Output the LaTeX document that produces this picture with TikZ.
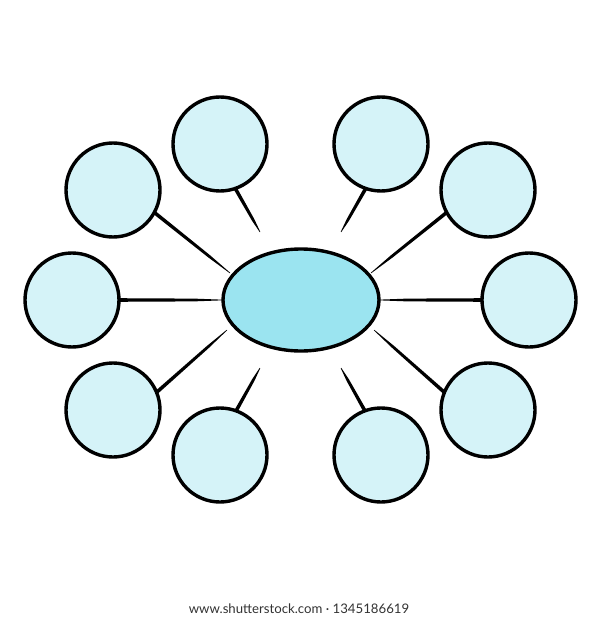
\documentclass[tikz,border=0pt]{standalone}
\usepackage{fontspec}
\setmainfont{Lato}
\usetikzlibrary{shapes.geometric,calc}
\definecolor{bubble}{RGB}{213,243,248}
\definecolor{hub}{RGB}{155,228,240}
\definecolor{captiongray}{RGB}{51,51,51}
\newcommand\spoke[2]{%
  \coordinate (spokemid) at ($(#1)!0.72!(#2)$);
  \fill ($(#1)!1.8pt!90:(#2)$) -- ($(spokemid)!1.4pt!-90:(#1)$) -- ($(#2)!0.3pt!-90:(#1)$) -- ($(#2)!0.3pt!90:(#1)$) -- ($(spokemid)!1.4pt!90:(#1)$) -- ($(#1)!1.8pt!-90:(#2)$) -- cycle;}
\begin{document}
\begin{tikzpicture}[x=1pt,y=-1pt,
  bubblenode/.style={circle,draw=black,line width=3.4pt,fill=bubble,minimum size=94pt,inner sep=0pt},
  hubnode/.style={ellipse,draw=black,line width=3.4pt,fill=hub,minimum width=156pt,minimum height=102pt,inner sep=0pt}]
\fill[white] (0,0) rectangle (600,620);
\useasboundingbox (0,0) rectangle (600,620);
% connector ends
\coordinate (s1) at (235,188); \coordinate (e1) at (260,232);
\coordinate (s2) at (366,188); \coordinate (e2) at (341,232);
\coordinate (s3) at (155,213); \coordinate (e3) at (230,273);
\coordinate (s4) at (446,213); \coordinate (e4) at (371,273);
\coordinate (s5) at (118,300); \coordinate (e5) at (223,300);
\coordinate (s6) at (483,300); \coordinate (e6) at (378,300);
\coordinate (s7) at (157,392); \coordinate (e7) at (227,330);
\coordinate (s8) at (444,392); \coordinate (e8) at (374,330);
\coordinate (s9) at (236,411); \coordinate (e9) at (260,368);
\coordinate (s10) at (365,411); \coordinate (e10) at (341,368);
\foreach \i in {1,...,10}{\spoke{s\i}{e\i}}
% nodes
\node[hubnode] (ce) at (301,300) {};
\node[bubblenode] (c1) at (220,144) {};
\node[bubblenode] (c2) at (381,144) {};
\node[bubblenode] (c3) at (113,190) {};
\node[bubblenode] (c4) at (488,190) {};
\node[bubblenode] (c5) at (72,300) {};
\node[bubblenode] (c6) at (529,300) {};
\node[bubblenode] (c7) at (113,410) {};
\node[bubblenode] (c8) at (488,410) {};
\node[bubblenode] (c9) at (220,455) {};
\node[bubblenode] (c10) at (381,455) {};
\node[text=captiongray,font=\fontsize{13.2}{15}\selectfont] (cap) at (299,609) {www.shutterstock.com · 1345186619};
\end{tikzpicture}
\end{document}
